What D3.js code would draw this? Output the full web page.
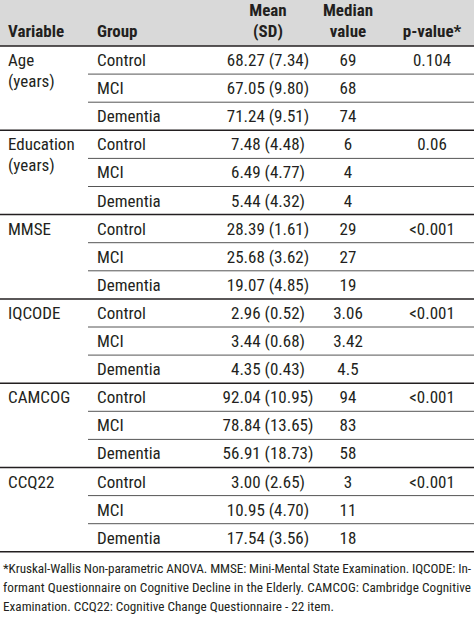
<!DOCTYPE html>
<html><head><meta charset="utf-8">
<script src="https://cdn.jsdelivr.net/npm/d3@7"></script>
<style>body{margin:0;background:#fff}svg{display:block}text{font-family:"Liberation Sans Narrow","Roboto Condensed","Liberation Sans",sans-serif;fill:#231f20}</style>
</head><body>
<script>
const variables = [["Age","(years)"],["Education","(years)"],["MMSE"],["IQCODE"],["CAMCOG"],["CCQ22"]];
const groups = ["Control","MCI","Dementia"];
const means = ["68.27 (7.34)","67.05 (9.80)","71.24 (9.51)","7.48 (4.48)","6.49 (4.77)","5.44 (4.32)","28.39 (1.61)","25.68 (3.62)","19.07 (4.85)","2.96 (0.52)","3.44 (0.68)","4.35 (0.43)","92.04 (10.95)","78.84 (13.65)","56.91 (18.73)","3.00 (2.65)","10.95 (4.70)","17.54 (3.56)"];
const medians = ["69","68","74","6","4","4","29","27","19","3.06","3.42","4.5","94","83","58","3","11","18"];
const pvalues = ["0.104","0.06","<0.001","<0.001","<0.001","<0.001"];
const headers = [["Variable"],["Group"],["Mean","(SD)"],["Median","value"],["p-value*"]];
const footnote = ["*Kruskal-Wallis Non-parametric ANOVA. MMSE: Mini-Mental State Examination. IQCODE: In-","formant Questionnaire on Cognitive Decline in the Elderly. CAMCOG: Cambridge Cognitive","Examination. CCQ22: Cognitive Change Questionnaire - 22 item."];

const W=474,H=622,headH=46,rowH=28.1,fs=17;
const svg=d3.select("body").append("svg").attr("width",W).attr("height",H);
const rows=d3.range(18);
const y=d3.scaleLinear().domain([0,18]).range([headH,headH+18*rowH]);
const colX=[8,97,268,348,432], anchors=["start","start","middle","middle","middle"];

svg.append("rect").attr("width",W).attr("height",headH).attr("fill","#d9d9d9");
headers.forEach((h,i)=>{
  h.forEach((t,j)=>svg.append("text").attr("x",colX[i]).attr("y",headH-9-(h.length-1-j)*21)
    .attr("text-anchor",anchors[i]).attr("font-weight","bold").attr("font-size",fs).text(t));
});
rows.forEach(r=>{
  if(r%3!==0) svg.append("line").attr("x1",88).attr("x2",W).attr("y1",y(r)).attr("y2",y(r)).attr("stroke","#555").attr("stroke-width",1);
});
d3.range(0,19,3).forEach(r=>svg.append("line").attr("x1",0).attr("x2",W).attr("y1",y(r)).attr("y2",y(r)).attr("stroke","#231f20").attr("stroke-width",1.5));

const cell=(x,r,t,a)=>svg.append("text").attr("x",x).attr("y",y(r)+rowH/2+6).attr("text-anchor",a).attr("font-size",fs).text(t);
variables.forEach((v,b)=>v.forEach((t,j)=>cell(colX[0],b*3+j,t,"start").attr("y",y(b*3)+rowH/2+6+j*21)));
rows.forEach(r=>{cell(colX[1],r,groups[r%3],"start");cell(colX[2],r,means[r],"middle");cell(colX[3],r,medians[r],"middle");});
pvalues.forEach((p,b)=>cell(colX[4],b*3,p,"middle"));

footnote.forEach((t,i)=>{
  const el=svg.append("text").attr("x",3).attr("y",y(18)+21+i*19).attr("font-size",13.2).text(t);
  if(i<2) el.attr("textLength",W-6).attr("lengthAdjust","spacing");
});
</script>
</body></html>
